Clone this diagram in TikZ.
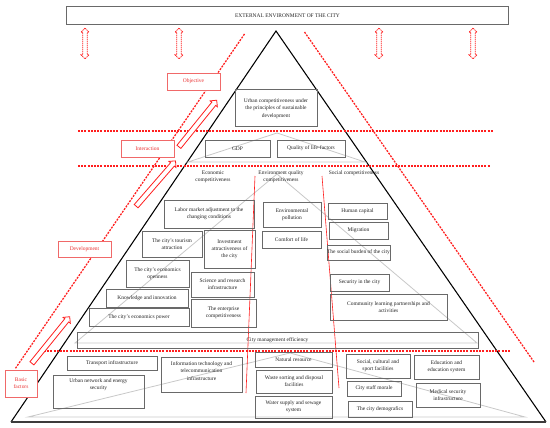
\documentclass[tikz,border=0pt]{standalone}
\usepackage{amsmath}
\usepackage{fontspec}
\setmainfont{Liberation Serif}
\usepackage{tikz}
\usetikzlibrary{shapes.arrows}

\definecolor{boxgray}{RGB}{105,105,105}
\definecolor{textgray}{RGB}{35,35,35}
\definecolor{lightgray}{RGB}{200,200,200}
\definecolor{levelred}{RGB}{240,105,105}
\definecolor{leveltext}{RGB}{235,50,50}
\definecolor{linered}{RGB}{255,30,30}

\begin{document}
\begin{tikzpicture}[x=0.75pt,y=0.75pt,yscale=-1,xscale=1,
    wh/.style 2 args={minimum width=#1*0.75pt,minimum height=#2*0.75pt},
    box/.style={draw=boxgray,line width=0.75pt,inner sep=0pt,align=center,
        font=\fontsize{4.1}{5.4}\selectfont,text=textgray},
    lbl/.style={inner sep=0pt,align=center,font=\fontsize{4.1}{5.4}\selectfont,text=textgray},
    redbox/.style={draw=levelred,fill=white,line width=0.6pt,inner sep=0pt,align=center,
        font=\fontsize{4.1}{5.4}\selectfont,text=leveltext},
    reddash/.style={draw=linered,line width=0.95pt,dash pattern=on 1.5pt off 0.9pt},
    redthin/.style={draw=linered,line width=0.45pt},
    grayline/.style={draw=lightgray,line width=0.6pt},
    vdarrow/.style={double arrow,draw=linered,line width=0.5pt,dash pattern=on 1pt off 0.5pt,
        rotate=90,minimum height=23pt,inner sep=1.4pt,double arrow head extend=1.4pt},
    uparrow/.style={single arrow,draw=linered,fill=white,line width=0.6pt,
        minimum height=45pt,inner sep=1.6pt,single arrow head extend=1.6pt}
]
    \useasboundingbox (0,0) rectangle (550,428);

    %Shape: Main triangle
    \coordinate (apex) at (276,31);
    \coordinate (bl) at (11,422);
    \coordinate (br) at (546,422);
    \draw [line width=0.8pt] (bl) -- (apex) -- (br) ;
    \draw [color={rgb, 255:red, 60; green, 60; blue, 60 },line width=1.2pt] (bl) -- (br) ;

    %Shape: Inner gray triangles
    \draw [grayline] (277,133) -- (188,162) -- (365,162) -- cycle ;
    \draw [grayline] (277,174) -- (75,343) -- (477,343) -- cycle ;
    \draw [grayline] (290,353) -- (28,417) -- (525,417) -- cycle ;

    %Straight Lines: red column dividers
    \draw [redthin] (255,176) -- (246,393) ;
    \draw [redthin] (322,176) -- (339,388) ;

    %Straight Lines: red dashed levels
    \draw [reddash] (78,131) -- (493,131) ;
    \draw [reddash] (78,166) -- (490,166) ;
    \draw [reddash] (44,351) -- (510,351) ;

    %Straight Lines: red dashed sides
    \coordinate (ltop) at (244.5,34);
    \coordinate (lbot) at (15,369);
    \coordinate (rtop) at (304.5,32);
    \coordinate (rbot) at (534,362);
    \draw [reddash] (ltop) -- (lbot) ;
    \draw [reddash] (rtop) -- (rbot) ;

    % External environment
    \draw (287.5,15.5) node [box,wh={442}{18}] (ext) {EXTERNAL ENVIRONMENT OF THE CITY};
    \draw (85,43.5) node [vdarrow] (da1) {};
    \draw (179,43.5) node [vdarrow] (da2) {};
    \draw (379,43.5) node [vdarrow] (da3) {};
    \draw (473,43.5) node [vdarrow] (da4) {};

    % Levels
    \draw (193.5,81.5) node [redbox,wh={53}{17}] (obj) {Objective};
    \draw (147.5,148.5) node [redbox,wh={53}{17}] (inter) {Interaction};
    \draw (84.5,249) node [redbox,wh={53}{16}] (devel) {Development};
    \draw (21,383.5) node [redbox,wh={32}{27}] (basic) {Basic\\factors};

    % Hollow arrows
    \draw (50,341) node [uparrow,rotate=51] (arr1) {};
    \draw (155,184.5) node [uparrow,rotate=49] (arr2) {};
    \draw (197,124.5) node [uparrow,rotate=51] (arr3) {};

    % Top
    \draw (276,108.5) node [box,wh={82}{37}] (urban) {Urban competitiveness under\\the principles of sustainable\\development};
    \draw (237.5,148.5) node [box,wh={65}{17}] (gdp) {GDP};
    \draw (311,148.5) node [box,wh={68}{17}] (qual) {Quality of life-factors};

    % Column headings
    \draw (213,177) node [lbl] (econ) {Economic\\competitiveness};
    \draw (281,177) node [lbl] (envq) {Environment quality\\competitiveness};
    \draw (354,173) node [lbl] (soc) {Social competitiveness};

    % Economic competitiveness
    \draw (209,214) node [box,wh={90}{28}] (labor) {Labor market adjustment to the\\changing conditions};
    \draw (172,244) node [box,wh={60}{26}] (tour) {The city's tourism\\attraction};
    \draw (229.5,249) node [box,wh={51}{38}] (invest) {Investment\\attractiveness of\\the city};
    \draw (157.5,273.5) node [box,wh={63}{27}] (open) {The city's economics\\openness};
    \draw (222.5,284.5) node [box,wh={63}{25}] (science) {Science and research\\infrastructure};
    \draw (147,298) node [box,wh={82}{18}] (know) {Knowledge and innovation};
    \draw (139,317) node [box,wh={100}{18}] (power) {The city's economics power};
    \draw (223.5,313) node [box,wh={65}{28}] (enterp) {The enterprise\\competitiveness};

    % Environment quality competitiveness
    \draw (292,214.5) node [box,wh={58}{25}] (pollut) {Environmental\\pollution};
    \draw (291.5,239.5) node [box,wh={59}{17}] (comfort) {Comfort of life};

    % Social competitiveness
    \draw (357.5,211) node [box,wh={59}{16}] (human) {Human capital};
    \draw (358.5,230.5) node [box,wh={59}{17}] (migr) {Migration};
    \draw (358.5,252.5) node [box,wh={63}{15}] (burden) {The social burden of the city};
    \draw (359.5,282.5) node [box,wh={59}{17}] (secur) {Security in the city};
    \draw (388.5,307) node [box,wh={117}{26}] (commun) {Community learning partnerships and\\activities};

    % City management
    \draw (277.5,340) node [box,wh={401}{16}] (mgmt) {City management efficiency};

    % Basic factors
    \draw (112,363) node [box,wh={90}{14}] (transp) {Transport infrastructure};
    \draw (98.5,391.5) node [box,wh={91}{33}] (urbnet) {Urban network and energy\\security\\\mbox{}\\\mbox{}};
    \draw (201.5,374.5) node [box,wh={81}{35}] (ict) {Information technology and\\telecommunication\\infrastructure\\\mbox{}};
    \draw (293.5,359.5) node [box,wh={77}{15}] (natur) {Natural resource};
    \draw (294,381.5) node [box,wh={76}{23}] (waste) {Waste sorting and disposal\\facilities};
    \draw (293.5,407) node [box,wh={77}{22}] (water) {Water supply and sewage\\system};
    \draw (378,366) node [box,wh={64}{24}] (social) {Social, cultural and\\sport facilities};
    \draw (446.5,367) node [box,wh={65}{24}] (educ) {Education and\\education system};
    \draw (374,388.5) node [box,wh={54}{15}] (staff) {City staff morale};
    \draw (448,395) node [box,wh={64}{24}] (medic) {Medical security\\infrastructure};
    \draw (380,409) node [box,wh={64}{16}] (demog) {The city demografics};

\end{tikzpicture}
\end{document}
